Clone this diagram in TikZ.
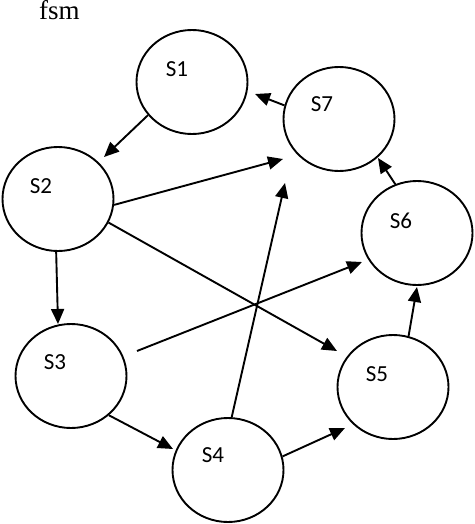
\documentclass[tikz,border=0pt]{standalone}
\usepackage{fontspec}
\setmainfont{Liberation Serif}
\newfontfamily\lblfont{Carlito}
\usetikzlibrary{shapes.geometric,arrows.meta,calc}
\begin{document}
\begin{tikzpicture}[x=1pt,y=-1pt,
  state/.style={draw,line width=1.9pt,ellipse,inner sep=0pt,minimum width=111pt,minimum height=104pt},
  lbl/.style={font=\lblfont\fontsize{23}{23}\selectfont,inner sep=0pt},
  edge/.style={line width=1.9pt,-{Triangle[length=15pt,width=13pt]}}]
\useasboundingbox (0,0) rectangle (474,524);
\node[font=\fontsize{27}{27}\selectfont,anchor=base west,inner sep=0pt] (title) at (39,20) {fsm};
\node[state] (s1) at (192,82) {};
\node[state] (s7) at (339,119) {};
\node[state] (s2) at (58,199) {};
\node[state] (s6) at (417,233) {};
\node[state] (s3) at (71,376) {};
\node[state] (s5) at (393,387) {};
\node[state] (s4) at (228,470) {};
\node[lbl] (l1) at (177,69) {S1};
\node[lbl] (l7) at (322,104) {S7};
\node[lbl] (l2) at (41,186) {S2};
\node[lbl] (l6) at (401,221) {S6};
\node[lbl] (l3) at (55,362) {S3};
\node[lbl] (l5) at (377,374) {S5};
\node[lbl] (l4) at (213,455) {S4};
% arrow tips, placed relative to the target states
\coordinate (t1) at ($(s2)+(46,-42)$);
\coordinate (t2) at ($(s1)+(63,12)$);
\coordinate (t3) at ($(s7)+(-56,40)$);
\coordinate (t4) at ($(s7)+(39,39)$);
\coordinate (t5) at ($(s5)+(-56,-36)$);
\coordinate (t6) at ($(s3)+(-13,-52)$);
\coordinate (t7) at ($(s6)+(-55,29)$);
\coordinate (t8) at ($(s7)+(-54,64)$);
\coordinate (t9) at ($(s4)+(-55,-21)$);
\coordinate (t10) at ($(s5)+(-48,41)$);
\coordinate (t11) at ($(s6)+(0,54)$);
\coordinate (o7) at ($(s3)+(66,-25)$);
\draw[edge] (s1.217) -- (t1);
\draw[edge] (s7.166) -- (t2);
\draw[edge] (s2.354) -- (t3);
\draw[edge] (s6.114) -- (t4);
\draw[edge] (s2.335) -- (t5);
\draw[edge] (s2.268) -- (t6);
\draw[edge] (o7) -- (t7);
\draw[edge] (s4.86) -- (t8);
\draw[edge] (s3.314) -- (t9);
\draw[edge] (s4.14) -- (t10);
\draw[edge] (s5.73) -- (t11);
\end{tikzpicture}
\end{document}
